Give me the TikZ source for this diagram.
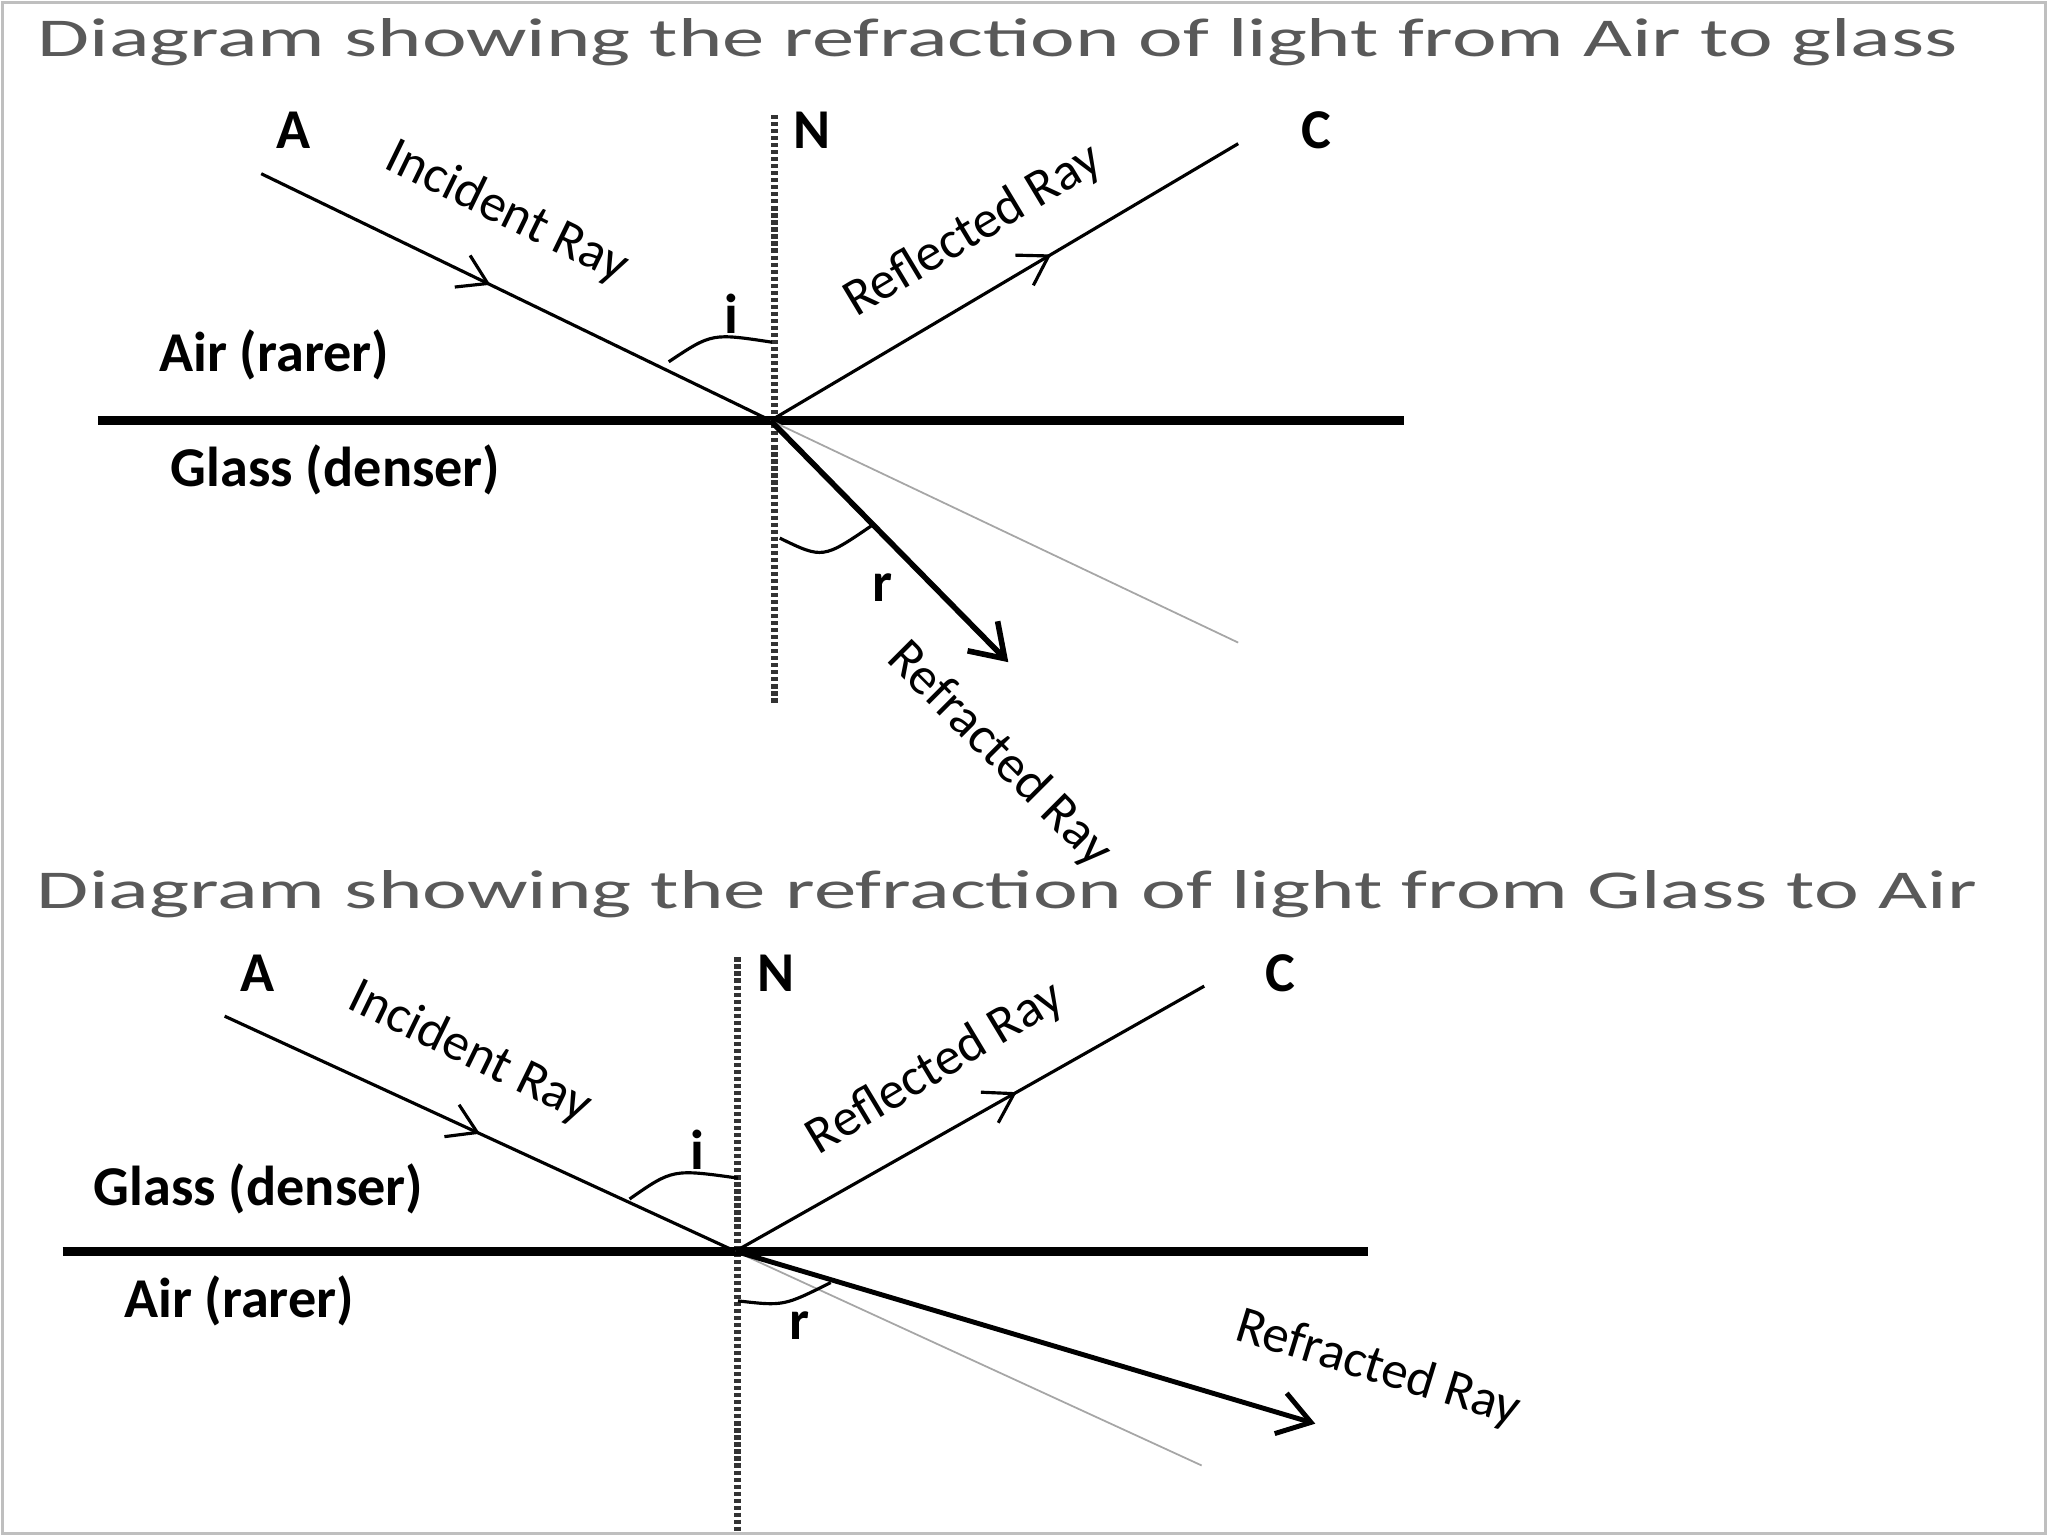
\documentclass[tikz,border=0pt]{standalone}
\usepackage{fontspec}
\usepackage{graphicx}
\setmainfont{Carlito}
\usetikzlibrary{decorations.markings,arrows.meta}
\tikzset{
  surf/.style={line width=2.6pt},
  normal/.style={line width=2pt,dash pattern=on 1.2pt off 0.8pt,black!80},
  ray/.style={line width=0.9pt},
  midarrow/.style={postaction={decorate},decoration={markings,mark=at position #1 with {\arrow{Straight Barb[length=8pt,width=10pt]}}}},
  faint/.style={line width=0.5pt,black!35},
  lbl/.style={font=\bfseries\fontsize{16}{18}\selectfont},
  raylbl/.style={font=\fontsize{15}{17}\selectfont},
  ttl/.style={text=black!65},
  ang/.style={line width=0.9pt}
}
\begin{document}
\begin{tikzpicture}[x=0.01306cm,y=-0.01306cm]
\useasboundingbox (0,0) rectangle (1568,1176);
\draw[black!25,line width=1pt] (2,2) rectangle (1566,1174);
% top diagram: air to glass
\node[ttl] (title1) at (764,32) {\resizebox{19.2cm}{0.38cm}{Diagram showing the refraction of light from Air to glass}};
\node[lbl] (A1) at (225,100) {A}; \node[lbl] (N1) at (622,100) {N}; \node[lbl] (C1) at (1008,100) {C};
\coordinate (O1) at (590,322);
\coordinate (ns1) at (593,88); \coordinate (ne1) at (593,540);
\coordinate (s1) at (75,322); \coordinate (e1) at (1075,322);
\coordinate (inc1) at (200,133); \coordinate (ref1) at (948,110);
\coordinate (fr1) at (772,507); \coordinate (ext1) at (948,492);
\draw[normal] (ns1) -- (ne1);
\draw[surf] (s1) -- (e1);
\draw[ray,midarrow=0.45] (inc1) -- (O1);
\draw[ray,midarrow=0.6] (O1) -- (ref1);
\draw[faint] (O1) -- (ext1);
\draw[ray,line width=1.6pt,-{Straight Barb[length=9pt,width=12pt]}] (O1) -- (fr1);
\draw[ang] (512,277) .. controls (545,255) .. (591,262);
\draw[ang] (597,412) .. controls (630,428) .. (668,402);
\node[lbl] (i1) at (560,240) {i}; \node[lbl] (r1) at (676,450) {r};
\node[lbl] (air1) at (210,272) {Air (rarer)};
\node[lbl] (gl1) at (257,360) {Glass (denser)};
\node[raylbl,rotate=-26] (il1) at (388,163) {Incident Ray};
\node[raylbl,rotate=31] (rl1) at (745,177) {Reflected Ray};
\node[raylbl,rotate=-45] (fl1) at (765,578) {Refracted Ray};
% bottom diagram: glass to air
\node[ttl] (title2) at (771,685) {\resizebox{19.4cm}{0.38cm}{Diagram showing the refraction of light from Glass to Air}};
\node[lbl] (A2) at (197,745) {A}; \node[lbl] (N2) at (594,745) {N}; \node[lbl] (C2) at (980,745) {C};
\coordinate (O2) at (563,958);
\coordinate (ns2) at (565,733); \coordinate (ne2) at (565,1172);
\coordinate (s2) at (48,958); \coordinate (e2) at (1047,958);
\coordinate (inc2) at (172,778); \coordinate (ref2) at (922,755);
\coordinate (fr2) at (1007,1090); \coordinate (ext2) at (920,1122);
\draw[normal] (ns2) -- (ne2);
\draw[surf] (s2) -- (e2);
\draw[ray,midarrow=0.5] (inc2) -- (O2);
\draw[ray,midarrow=0.6] (O2) -- (ref2);
\draw[faint] (O2) -- (ext2);
\draw[ray,line width=1.4pt,-{Straight Barb[length=9pt,width=12pt]}] (O2) -- (fr2);
\draw[ang] (482,918) .. controls (515,895) .. (565,902);
\draw[ang] (565,996) .. controls (600,1000) .. (636,982);
\node[lbl] (i2) at (534,880) {i}; \node[lbl] (r2) at (612,1015) {r};
\node[lbl] (gl2) at (198,910) {Glass (denser)};
\node[lbl] (air2) at (183,996) {Air (rarer)};
\node[raylbl,rotate=-26] (il2) at (360,806) {Incident Ray};
\node[raylbl,rotate=31] (rl2) at (716,818) {Reflected Ray};
\node[raylbl,rotate=-17] (fl2) at (1055,1048) {Refracted Ray};
\end{tikzpicture}
\end{document}
